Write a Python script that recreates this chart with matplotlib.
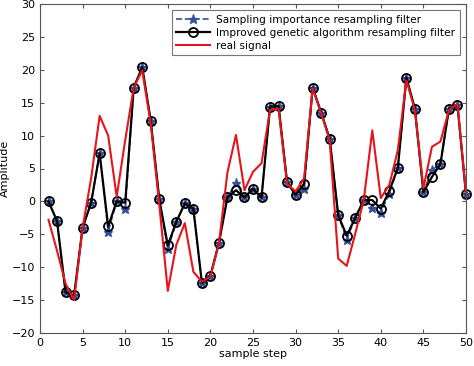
import matplotlib
matplotlib.use("Agg")
import matplotlib.pyplot as plt
import numpy as np

steps = list(range(1, 51))

iga = [0.0, -3.0, -13.8, -14.3, -4.0, -0.2, 7.3, -3.8, 0.0, -0.2,
       17.3, 20.4, 12.2, 0.3, -6.7, -3.1, -0.3, -1.1, -12.4, -11.3,
       -6.3, 0.6, 1.7, 0.6, 1.9, 0.6, 14.4, 14.5, 2.9, 1.0,
       2.7, 17.3, 13.5, 9.5, -2.1, -5.2, -2.5, 0.2, 0.2, -1.1,
       1.6, 5.1, 18.8, 14.1, 1.4, 3.7, 5.7, 14.1, 14.6, 1.1]

sir = [0.0, -3.0, -13.8, -14.3, -4.0, -0.2, 7.3, -4.6, 0.0, -1.2,
       17.3, 20.4, 12.2, 0.3, -7.3, -3.1, -0.3, -1.1, -12.4, -11.3,
       -6.3, 0.6, 2.8, 0.6, 1.9, 0.6, 14.4, 14.5, 2.9, 1.0,
       1.9, 17.3, 13.5, 9.5, -2.1, -5.8, -2.5, 0.2, -1.0, -1.7,
       1.2, 5.1, 18.8, 14.1, 1.4, 4.8, 5.7, 14.1, 14.6, 1.1]

real = [-2.8, -7.5, -12.5, -15.0, -4.0, 3.5, 13.0, 10.0, 0.7, 9.3,
        17.3, 19.9, 11.8, -0.5, -13.6, -6.6, -3.3, -10.7, -12.2, -11.4,
        -6.4, 4.4, 10.1, 1.7, 4.5, 5.8, 13.9, 14.1, 2.7, 1.5,
        3.5, 17.2, 13.4, 9.3, -8.7, -9.8, -4.9, 0.2, 10.8, 0.5,
        2.5, 7.8, 18.4, 13.9, 2.0, 8.3, 9.1, 13.9, 14.8, 1.2]

labels = ["Sampling importance resampling filter",
          "Improved genetic algorithm resampling filter",
          "real signal"]

fig = plt.figure(figsize=(4.74, 3.66), dpi=100)
ax = fig.add_axes([40/474, 1 - 333/366, 426/474, 329/366])

ax.plot(steps, sir, '--', color='#34509e', marker='*', markersize=6.5,
        linewidth=1.2, label=labels[0], clip_on=False)
ax.plot(steps, iga, '-', color='black', marker='o', markersize=6.5,
        markerfacecolor='none', markeredgewidth=1.3, linewidth=1.6,
        label=labels[1], clip_on=False)
ax.plot(steps, real, '-', color='#e8141c', linewidth=1.5, label=labels[2])

ax.set_xlim(0, 50)
ax.set_ylim(-20, 30)
ax.set_xticks(range(0, 51, 5))
ax.set_yticks(range(-20, 31, 5))
ax.tick_params(direction='in', top=True, right=True, labelsize=8,
               length=3, color='#555555')
for s in ax.spines.values():
    s.set_color('#555555')
ax.set_xlabel('sample step', fontsize=8, labelpad=1)
ax.set_ylabel('Amplitude', fontsize=8, labelpad=1)

leg = ax.legend(loc='upper right', fontsize=7.6, frameon=True, fancybox=False,
                edgecolor='#555555', borderaxespad=0.6, handlelength=3.2,
                labelspacing=0.3, borderpad=0.4, handletextpad=0.6)
leg.get_frame().set_linewidth(0.8)

fig.savefig('out.png', dpi=100)
